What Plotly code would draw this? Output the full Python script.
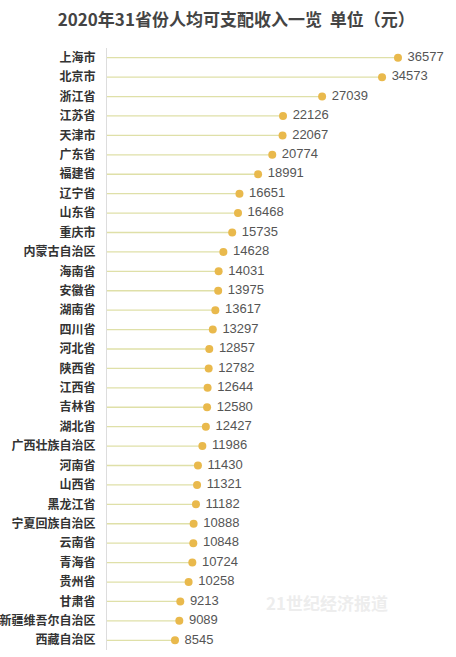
import plotly.graph_objects as go

provinces = ["上海市", "北京市", "浙江省", "江苏省", "天津市", "广东省", "福建省", "辽宁省",
             "山东省", "重庆市", "内蒙古自治区", "海南省", "安徽省", "湖南省", "四川省", "河北省",
             "陕西省", "江西省", "吉林省", "湖北省", "广西壮族自治区", "河南省", "山西省", "黑龙江省",
             "宁夏回族自治区", "云南省", "青海省", "贵州省", "甘肃省", "新疆维吾尔自治区", "西藏自治区"]
income = [36577, 34573, 27039, 22126, 22067, 20774, 18991, 16651,
          16468, 15735, 14628, 14031, 13975, 13617, 13297, 12857,
          12782, 12644, 12580, 12427, 11986, 11430, 11321, 11182,
          10888, 10848, 10724, 10258, 9213, 9089, 8545]

title_text = "2020年31省份人均可支配收入一览  单位（元）"

sx, sy = [], []
for p, v in zip(provinces, income):
    sx += [0, v, None]
    sy += [p, p, None]

fig = go.Figure()
fig.add_trace(go.Scatter(x=sx, y=sy, mode="lines",
                         line=dict(color="#dfe0a8", width=1.3),
                         hoverinfo="skip", showlegend=False))
fig.add_trace(go.Scatter(x=income, y=provinces, mode="markers+text",
                         marker=dict(color="#e9b94c", size=8),
                         text=[" " + str(v) for v in income],
                         textposition="middle right",
                         textfont=dict(family="Liberation Sans, Arial, sans-serif", size=13, color="#555555"),
                         showlegend=False))

fig.update_layout(
    width=456, height=657,
    margin=dict(l=107, r=0, t=48, b=7),
    paper_bgcolor="white", plot_bgcolor="white",
    title=dict(text="<b>" + title_text + "</b>", x=0.518, xanchor="center", y=0.969, yanchor="middle",
               font=dict(family="Noto Sans CJK SC, sans-serif", size=17, color="#444444")),
    xaxis=dict(range=[0, 43870], visible=False, showgrid=False, zeroline=False),
    yaxis=dict(type="category", autorange=False, range=[30.5, -0.5],
               showgrid=False, zeroline=False, showline=True, linecolor="#dddddd", linewidth=1,
               ticks="", ticklabelstandoff=8,
               tickfont=dict(family="Noto Sans CJK SC, sans-serif", size=12, color="#333333", weight="bold")),
    annotations=[dict(text="21世纪经济报道", x=0.81, y=0.055, xref="paper", yref="paper",
                      showarrow=False, font=dict(family="Noto Sans CJK SC, serif", size=17, color="rgba(235,235,235,0.9)", weight="bold"))],
)
fig.write_html("out.html")
